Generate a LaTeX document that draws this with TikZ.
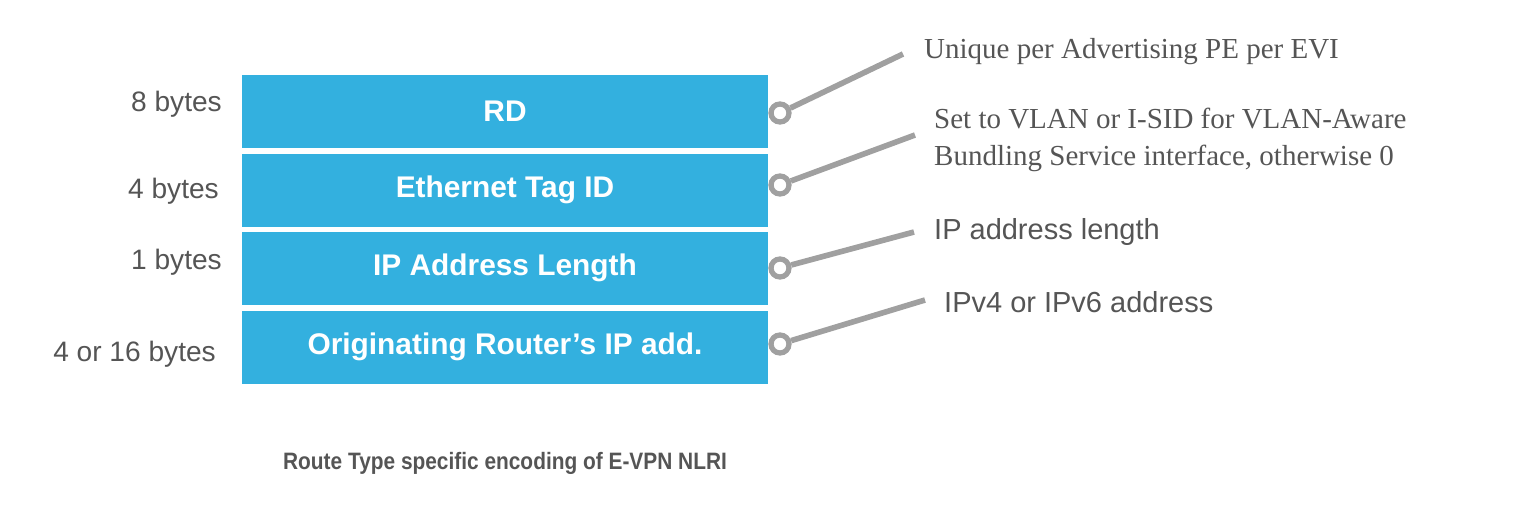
\documentclass[tikz,border=0pt]{standalone}
\usepackage{fontspec}
\setmainfont{Liberation Sans}
\newfontfamily\serifx{Liberation Serif}
\begin{document}
\begin{tikzpicture}[x=0.02cm,y=-0.02cm,
  fld/.style={fill=boxblue,draw=none,minimum width=526*0.02cm,minimum height=73*0.02cm,inner sep=0pt,text=white,font=\fontsize{17}{20}\selectfont\bfseries},
  sz/.style={anchor=east,text=txtgray,font=\fontsize{16}{19}\selectfont},
  desc/.style={anchor=west,text=txtgray,font=\fontsize{16.5}{21}\selectfont,align=left},
  lead/.style={draw=leadgray,line width=3.2pt},
  ring/.style={circle,draw=leadgray,line width=3pt,fill=white,minimum size=0.36cm,inner sep=0pt}]
\definecolor{boxblue}{HTML}{33B0DF}
\definecolor{txtgray}{HTML}{555555}
\definecolor{leadgray}{HTML}{A0A0A0}
\useasboundingbox (0,0) rectangle (1538,504);
\node[fld] (rd) at (505,111) {RD};
\node[fld] (et) at (505,190) {Ethernet Tag ID};
\node[fld] (ip) at (505,268) {IP Address Length};
\node[fld] (or) at (505,347) {Originating Router’s IP add.};
\node[sz] (s1) at (228,104) {8 bytes};
\node[sz] (s2) at (225,191) {4 bytes};
\node[sz] (s3) at (228,262) {1 bytes};
\node[sz] (s4) at (222,354) {4 or 16 bytes};
\node[desc,font=\serifx\fontsize{16.5}{21}\selectfont] (d1) at (918,52) {Unique per Advertising PE per EVI};
\node[desc,font=\serifx\fontsize{16.5}{21}\selectfont] (d2) at (928,140) {Set to VLAN or I-SID for VLAN-Aware\\Bundling Service interface, otherwise 0};
\node[desc] (d3) at (928,232) {IP address length};
\node[desc] (d4) at (938,302) {IPv4 or IPv6 address};
\coordinate (e1) at (903,54);
\coordinate (e2) at (915,135);
\coordinate (e3) at (914,232);
\coordinate (e4) at (925,300);
\node[ring] (c1) at (780,113) {};
\node[ring] (c2) at (780,185) {};
\node[ring] (c3) at (780,268) {};
\node[ring] (c4) at (780,344) {};
\draw[lead] (c1) -- (e1);
\draw[lead] (c2) -- (e2);
\draw[lead] (c3) -- (e3);
\draw[lead] (c4) -- (e4);
\node[text=txtgray,font=\fontsize{13.5}{16}\selectfont\bfseries,xscale=0.88] (cap) at (505,463) {Route Type specific encoding of E-VPN NLRI};
\end{tikzpicture}
\end{document}
